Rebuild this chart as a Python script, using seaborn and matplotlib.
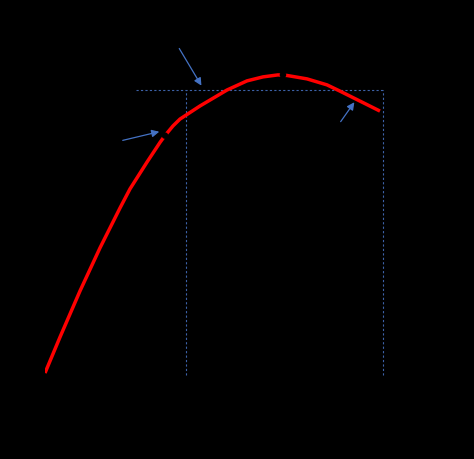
import numpy as np
import pandas as pd
import matplotlib
matplotlib.use("Agg")
import matplotlib.pyplot as plt
import seaborn as sns

# curve (x: 0-100, y: 0-120)
curve_x = [0, 4.44, 10.36, 16.27, 22.19, 25.15, 30.18, 34.02, 35.50, 37.87, 39.94, 45.86,
           53.85, 59.76, 64.50, 68.93, 71.60, 77.51, 83.43, 87.28, 93.20, 99.11]
curve_y = [0.7, 13.3, 29.5, 44.6, 58.6, 65.3, 74.7, 81.6, 84.0, 87.4, 89.8, 94.4,
           100.0, 103.2, 104.6, 105.3, 105.1, 103.9, 101.8, 99.6, 96.1, 92.6]

# marked points (drawn black, as in the reference)
mark_x = [35.5, 70.4]
mark_y = [84.0, 105.3]

# guide lines
guide_level = 100
guide_x_start = 26.9
guide_x = [41.7, 100]

# arrows: (tail x, tail y, head x, head y)
arrow_tail_x = [22.2, 39.3, 87.0]
arrow_tail_y = [82.1, 115.4, 88.1]
arrow_head_x = [34.6, 46.7, 92.0]
arrow_head_y = [85.6, 100.7, 96.5]

sns.set_theme(style="white")
fig = plt.figure(figsize=(4.74, 4.60), dpi=100, facecolor="black")
ax = fig.add_axes([45 / 474, 84 / 460, 338 / 474, 342 / 460])
ax.set_facecolor("black")

blue = "#4472C4"
guide_blue = "#3D62A8"

# dotted guides
ax.hlines(guide_level, guide_x_start, guide_x[1], colors=guide_blue,
          linestyles=(0, (2, 2)), linewidth=0.8, clip_on=False)
for gx in guide_x:
    ax.vlines(gx, 0, guide_level, colors=guide_blue, linestyles=(0, (2, 2)),
              linewidth=0.8, clip_on=False)

df = pd.DataFrame({"x": curve_x, "y": curve_y})
sns.lineplot(data=df, x="x", y="y", ax=ax, color="#FF0000", linewidth=2.5,
             sort=False, solid_joinstyle="round", solid_capstyle="butt")

ax.scatter(mark_x, mark_y, s=22, color="black", zorder=5, edgecolors="none")

for tx, ty, hx, hy in zip(arrow_tail_x, arrow_tail_y, arrow_head_x, arrow_head_y):
    ax.annotate("", xy=(hx, hy), xytext=(tx, ty),
                arrowprops=dict(arrowstyle="-|>", color=blue, lw=0.9, mutation_scale=11))

ax.set_xlim(0, 100)
ax.set_ylim(0, 120)
ax.axis("off")

fig.savefig("out.png", dpi=100, facecolor="black")
